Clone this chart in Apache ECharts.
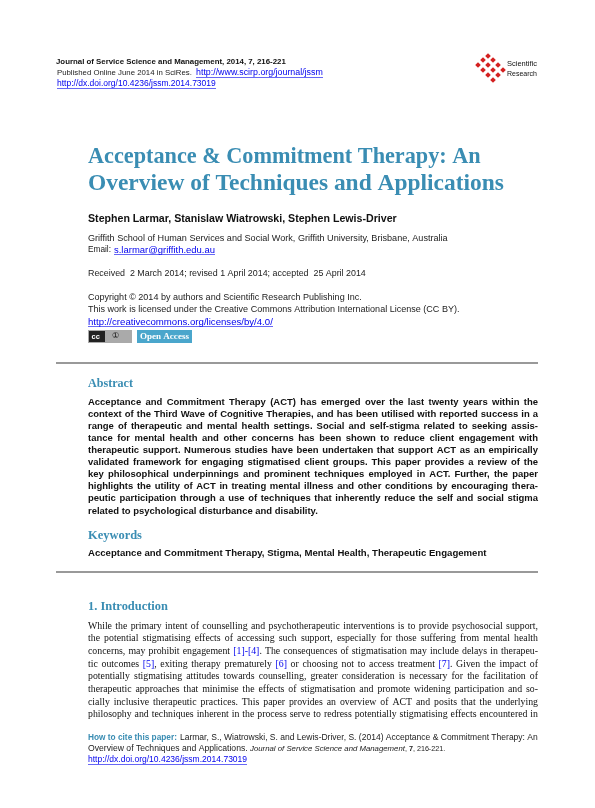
<!DOCTYPE html>
<html><head><meta charset="utf-8">
<script src="https://cdn.jsdelivr.net/npm/echarts@6/dist/echarts.min.js"></script>
<style>html,body{margin:0;padding:0;background:#fff}#c{width:595px;height:808px}</style>
</head><body><div id="c"></div>
<script>
const headerLines = ["Journal of Service Science and Management, 2014, 7, 216-221", "Published Online June 2014 in SciRes.", "http://dx.doi.org/10.4236/jssm.2014.73019"];
const headerUrl = "http://www.scirp.org/journal/jssm";
const titleLines = ["Acceptance & Commitment Therapy: An", "Overview of Techniques and Applications"];
const authors = "Stephen Larmar, Stanislaw Wiatrowski, Stephen Lewis-Driver";
const affil = ["Griffith School of Human Services and Social Work, Griffith University, Brisbane, Australia", "Email:"];
const email = "s.larmar@griffith.edu.au";
const received = "Received  2 March 2014; revised 1 April 2014; accepted  25 April 2014";
const copyright = ["Copyright © 2014 by authors and Scientific Research Publishing Inc.", "This work is licensed under the Creative Commons Attribution International License (CC BY)."];
const ccUrl = "http://creativecommons.org/licenses/by/4.0/";
const abstractLines = [
"Acceptance and Commitment Therapy (ACT) has emerged over the last twenty years within the",
"context of the Third Wave of Cognitive Therapies, and has been utilised with reported success in a",
"range of therapeutic and mental health settings. Social and self-stigma related to seeking assis-",
"tance for mental health and other concerns has been shown to reduce client engagement with",
"therapeutic support. Numerous studies have been undertaken that support ACT as an empirically",
"validated framework for engaging stigmatised client groups. This paper provides a review of the",
"key philosophical underpinnings and prominent techniques employed in ACT. Further, the paper",
"highlights the utility of ACT in treating mental illness and other conditions by encouraging thera-",
"peutic participation through a use of techniques that inherently reduce the self and social stigma",
"related to psychological disturbance and disability."];
const keywords = "Acceptance and Commitment Therapy, Stigma, Mental Health, Therapeutic Engagement";
const introLines = [
"While the primary intent of counselling and psychotherapeutic interventions is to provide psychosocial support,",
"the potential stigmatising effects of accessing such support, especially for those suffering from mental health",
"concerns, may prohibit engagement [1]-[4]. The consequences of stigmatisation may include delays in therapeu-",
"tic outcomes [5], exiting therapy prematurely [6] or choosing not to access treatment [7]. Given the impact of",
"potentially stigmatising attitudes towards counselling, greater consideration is necessary for the facilitation of",
"therapeutic approaches that minimise the effects of stigmatisation and promote widening participation and so-",
"cially inclusive therapeutic practices. This paper provides an overview of ACT and posits that the underlying",
"philosophy and techniques inherent in the process serve to redress potentially stigmatising effects encountered in"];
const citeLines = ["Larmar, S., Wiatrowski, S. and Lewis-Driver, S. (2014) Acceptance & Commitment Therapy: An",
"Overview of Techniques and Applications. ", "http://dx.doi.org/10.4236/jssm.2014.73019"];

const TEAL = '#3a8db3', LINK = '#0000ee';
const g = [];
const ctx = document.createElement('canvas').getContext('2d');
function base(o){ return Object.assign({fill:'#222', fontFamily:'Liberation Sans', fontSize:8, fontWeight:'normal', fontStyle:'normal', textVerticalAlign:'middle'}, o||{}); }
function W(text, st){ ctx.font = `${st.fontStyle} ${st.fontWeight} ${st.fontSize}px "${st.fontFamily}"`; return ctx.measureText(text).width; }
function T(x, y, text, o) { const st = base(o); st.text = text; g.push({type:'text', x, y, style: st}); return x + W(text, st); }
function F(x, y, text, o, endX) { const st = base(o); st.fontSize = st.fontSize * (endX - x) / W(text, st); return T(x, y, text, st); }
function J(x, y, text, st, endX) {
  const words = text.split(' '); let tot = 0; words.forEach(w => tot += W(w, st));
  const gap = (endX - x - tot) / (words.length - 1); let cx = x;
  words.forEach(w => {
    const m = w.match(/^(\[[\d\]\[-]+\])(.*)$/);
    if (m) { const a = T(cx, y, m[1], Object.assign({}, st, {fill:LINK})); T(a, y, m[2], st); }
    else T(cx, y, w, st);
    cx += W(w, st) + gap;
  });
}
function block(x, y0, dy, lines, o, endX, lastJust) {
  const st = base(o); let s = 100;
  lines.slice(0, lastJust ? lines.length : lines.length - 1).forEach(l => { const t = base(Object.assign({}, o, {fontSize:10})); s = Math.min(s, 10 * (endX - x) / W(l, t)); });
  st.fontSize = s * 0.985;
  lines.forEach((l, i) => { if (i < lines.length - 1 || lastJust) J(x, y0 + i * dy, l, st, endX); else T(x, y0 + i * dy, l, st); });
}
function U(x, y, x2, c) { g.push({type:'line', shape:{x1:x,y1:y,x2:x2,y2:y}, style:{stroke:c||LINK, lineWidth:0.6}}); }
function R(x,y,w,h,c){ g.push({type:'rect', shape:{x,y,width:w,height:h}, style:{fill:c}}); }

// header
F(56, 62, headerLines[0], {fontWeight:'bold', fill:'#111', fontSize:7.5}, 286);
F(57, 73, headerLines[1], {fontSize:7.5}, 192);
F(196, 73, headerUrl, {fill:LINK, fontSize:7.5}, 323); U(196, 77.5, 323);
F(57, 84, headerLines[2], {fill:LINK, fontSize:7.5}, 216); U(57, 88.5, 216);
// logo
const dots = [[478,65],[483,60],[488,56],[483,70],[488,65],[493,60],[488,75],[493,70],[498,65],[493,80],[503,70],[498,75]];
dots.forEach(d=>g.push({type:'rect', shape:{x:d[0]-2,y:d[1]-2,width:4,height:4}, rotation:Math.PI/4, originX:d[0], originY:d[1], style:{fill:'#d42020'}}));
F(507, 64, "Scientific", {fontSize:8, fill:'#111'}, 537);
F(507, 74, "Research", {fontSize:8, fill:'#111'}, 537);
// title
F(88, 157, titleLines[0], {fontSize:22, fontWeight:'bold', fontFamily:'Liberation Serif', fill:TEAL}, 481);
F(88, 184, titleLines[1], {fontSize:22, fontWeight:'bold', fontFamily:'Liberation Serif', fill:TEAL}, 504);
F(88, 219, authors, {fontSize:10, fontWeight:'bold', fill:'#111'}, 397);
F(88, 238, affil[0], {fontSize:8.3}, 448);
F(88, 250, affil[1], {fontSize:8.3}, 111);
F(114, 250, email, {fontSize:8.3, fill:LINK}, 215); U(114, 254.5, 215);
F(88, 274, received, {fontSize:8.3}, 366);
F(88, 298, copyright[0], {fontSize:8.3}, 362);
F(88, 310, copyright[1], {fontSize:8.3}, 460);
F(88, 322, ccUrl, {fontSize:8.3, fill:LINK}, 273); U(88, 326.5, 273);
R(88, 330, 44, 13, '#aaa'); R(89,331,16,11,'#222');
T(91.5, 336.5, "cc", {fontSize:7.5, fill:'#fff', fontWeight:'bold'});
T(112, 336, "①", {fontSize:8, fill:'#111'});
R(137, 330, 55, 13, '#4aa6cc');
F(140, 336.5, "Open Access", {fontSize:7.5, fill:'#fff', fontFamily:'Liberation Serif', fontWeight:'bold'}, 189);
g.push({type:'line', shape:{x1:56,y1:363,x2:538,y2:363}, style:{stroke:'#999', lineWidth:2}});
F(88, 384, "Abstract", {fontSize:11, fontWeight:'bold', fontFamily:'Liberation Serif', fill:TEAL}, 133);
block(88, 402, 12.1, abstractLines, {fontSize:8.5, fontWeight:'bold', fill:'#111'}, 538, false);
F(88, 536, "Keywords", {fontSize:11, fontWeight:'bold', fontFamily:'Liberation Serif', fill:TEAL}, 142);
F(88, 553, keywords, {fontSize:8.5, fontWeight:'bold', fill:'#111'}, 487);
g.push({type:'line', shape:{x1:56,y1:572,x2:538,y2:572}, style:{stroke:'#999', lineWidth:2}});
F(88, 607, "1. Introduction", {fontSize:11, fontWeight:'bold', fontFamily:'Liberation Serif', fill:TEAL}, 168);
block(88, 626, 12.7, introLines, {fontSize:8.6, fontFamily:'Liberation Serif', fill:'#111'}, 538, true);
const hx = F(88, 738, "How to cite this paper:", {fontSize:7.2, fontWeight:'bold', fill:TEAL}, 177);
F(hx + 3, 738, citeLines[0], {fontSize:7.2}, 538);
let cx = F(88, 749, citeLines[1], {fontSize:7.2}, 250);
cx = F(cx, 749, "Journal of Service Science and Management", {fontSize:7.2, fontStyle:'italic'}, 405);
cx = T(cx, 749, ", ", {fontSize:7.2});
cx = T(cx, 749, "7", {fontSize:7.2, fontWeight:'bold'});
T(cx, 749, ", 216-221.", {fontSize:7.2});
F(88, 760, citeLines[2], {fontSize:7.2, fill:LINK}, 247); U(88, 764.5, 247);

const chart = echarts.init(document.getElementById('c'));
chart.setOption({animation:false, graphic:{elements:g}});
</script></body></html>
